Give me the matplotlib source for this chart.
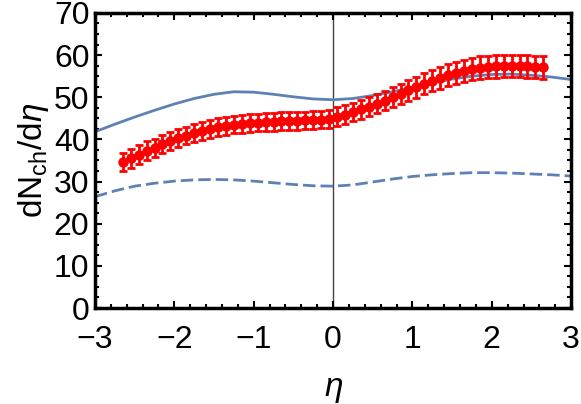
import numpy as np
import matplotlib
matplotlib.use("Agg")
import matplotlib.pyplot as plt
from matplotlib.ticker import MultipleLocator

plt.rcParams['font.family'] = ['Liberation Sans', 'DejaVu Sans']
plt.rcParams['mathtext.fontset'] = 'custom'
plt.rcParams['mathtext.rm'] = 'Liberation Sans'
plt.rcParams['mathtext.it'] = 'Liberation Sans:italic'

# data points (eta, dN/deta, error)
eta_data = [-2.65, -2.55, -2.45, -2.35, -2.25, -2.15, -2.05, -1.95, -1.85, -1.75,
            -1.65, -1.55, -1.45, -1.35, -1.25, -1.15, -1.05, -0.95, -0.85, -0.75,
            -0.65, -0.55, -0.45, -0.35, -0.25, -0.15, -0.05, 0.05, 0.15, 0.25,
            0.35, 0.45, 0.55, 0.65, 0.75, 0.85, 0.95, 1.05, 1.15, 1.25,
            1.35, 1.45, 1.55, 1.65, 1.75, 1.85, 1.95, 2.05, 2.15, 2.25,
            2.35, 2.45, 2.55, 2.65]
dn_data = [34.6, 35.5, 36.4, 37.3, 38.0, 38.9, 39.6, 40.3, 40.9, 41.5,
           42.0, 42.5, 42.9, 43.2, 43.5, 43.7, 43.9, 44.0, 44.1, 44.2,
           44.3, 44.4, 44.4, 44.5, 44.6, 44.7, 44.9, 45.4, 45.9, 46.5,
           47.1, 47.8, 48.5, 49.2, 50.0, 50.8, 51.6, 52.4, 53.2, 53.9,
           54.6, 55.2, 55.8, 56.3, 56.7, 57.0, 57.2, 57.3, 57.4, 57.4,
           57.4, 57.3, 57.2, 57.1]
err_data = [2.2, 2.2, 2.2, 2.2, 2.2, 2.1, 2.1, 2.1, 2.1, 2.1,
            2.1, 2.1, 2.1, 2.1, 2.1, 2.1, 2.1, 2.1, 2.1, 2.1,
            2.1, 2.1, 2.1, 2.1, 2.1, 2.1, 2.1, 2.2, 2.2, 2.2,
            2.2, 2.3, 2.3, 2.3, 2.4, 2.4, 2.4, 2.5, 2.5, 2.5,
            2.6, 2.6, 2.6, 2.6, 2.7, 2.7, 2.7, 2.7, 2.7, 2.7,
            2.7, 2.7, 2.7, 2.7]

# model curves
eta_curve = [-3.0, -2.75, -2.5, -2.25, -2.0, -1.75, -1.5, -1.25, -1.0, -0.75,
             -0.5, -0.25, 0.0, 0.25, 0.5, 0.75, 1.0, 1.25, 1.5, 1.75,
             2.0, 2.25, 2.5, 2.75, 3.0]
solid_curve = [41.8, 43.6, 45.3, 46.9, 48.4, 49.7, 50.7, 51.3, 51.2, 50.7,
               50.1, 49.6, 49.4, 49.7, 50.4, 51.3, 52.3, 53.4, 54.3, 55.0,
               55.4, 55.5, 55.2, 54.8, 54.2]
dashed_curve = [26.4, 27.8, 28.9, 29.6, 30.1, 30.4, 30.5, 30.4, 30.1, 29.7,
                29.3, 29.0, 28.9, 29.2, 29.9, 30.6, 31.2, 31.6, 31.9, 32.1,
                32.1, 32.0, 31.8, 31.6, 31.3]

blue = '#5E81B5'

fig = plt.figure(figsize=(5.81, 4.04), dpi=100)
ax = fig.add_axes([0.1635, 0.2376, 0.8195, 0.7304])

ax.axvline(0, color='#444444', lw=1.0, zorder=1)
ax.plot(eta_curve, solid_curve, color=blue, lw=2.0, zorder=2)
ax.plot(eta_curve, dashed_curve, color=blue, lw=2.0, ls=(0, (4.5, 1.8)), zorder=2)
ax.errorbar(eta_data, dn_data, yerr=err_data, fmt='o', color='red', ms=6.5,
            elinewidth=2.0, capsize=3.2, capthick=2.0, zorder=3)

ax.set_xlim(-3, 3)
ax.set_ylim(0, 70)
ax.xaxis.set_major_locator(MultipleLocator(1))
ax.xaxis.set_minor_locator(MultipleLocator(0.2))
ax.yaxis.set_major_locator(MultipleLocator(10))
ax.yaxis.set_minor_locator(MultipleLocator(2.5))
ax.tick_params(which='both', direction='in', top=True, right=True, width=1.5,
               labelsize=23, colors='black')
ax.tick_params(axis='x', pad=12)
ax.tick_params(axis='y', pad=4)
ax.tick_params(which='major', length=5)
ax.tick_params(which='minor', length=3)
for s in ax.spines.values():
    s.set_linewidth(2.5)

ax.set_xlabel(r'$\eta$', fontsize=24, labelpad=14)
ax.set_ylabel(r'$\mathrm{dN_{ch}/d}\eta$', fontsize=24, labelpad=2)

fig.savefig('out.png', dpi=100)
